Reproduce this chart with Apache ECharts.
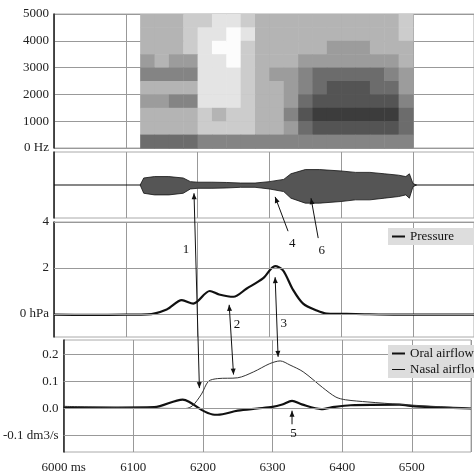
<!DOCTYPE html>
<html><head><meta charset="utf-8">
<script src="https://cdn.jsdelivr.net/npm/echarts@6/dist/echarts.min.js"></script>
<style>html,body{margin:0;padding:0;background:#fff}#c{width:474px;height:474px}</style>
</head><body><div id="c"></div>
<script>
// ---- data ----
const specStart = 6120, specStep = 20, freqStep = 500;
// rows from 4500-5000 Hz (top) down to 0-500 Hz; one value per 20 ms column (intensity 0-9)
const specRows = [
 [3,3,3,2,2,1,1,2,3,3,3,3,3,3,3,3,3,3,2],
 [3,3,3,2,1,1,0,1,3,3,3,3,3,3,3,3,3,3,2],
 [3,3,3,2,1,0,0,2,3,3,3,3,3,4,4,4,3,3,3],
 [4,3,4,4,1,1,0,2,3,3,3,4,4,4,4,4,4,4,3],
 [5,5,5,5,1,1,1,2,3,4,4,5,6,6,6,6,6,5,4],
 [3,3,3,3,1,1,1,2,3,3,4,5,6,7,7,7,6,6,4],
 [4,4,5,5,1,1,1,2,3,3,4,6,7,7,7,7,7,7,5],
 [3,3,3,3,2,3,2,2,3,3,5,7,8,8,8,8,8,8,6],
 [3,3,3,3,2,2,2,2,3,3,4,6,7,7,7,7,7,7,6],
 [6,6,6,6,5,5,5,5,5,5,5,5,5,5,5,5,5,5,5]
];
const waveT   = [6120,6125,6140,6160,6180,6190,6200,6220,6240,6260,6280,6300,6320,6330,6350,6370,6400,6420,6440,6460,6480,6490,6495,6500,6505];
const waveEnv = [0,0.25,0.3,0.3,0.25,0.12,0.1,0.1,0.09,0.07,0.07,0.12,0.2,0.4,0.55,0.55,0.5,0.45,0.45,0.4,0.35,0.3,0.4,0.05,0];
const pressureT = [6000,6050,6100,6130,6157,6178,6194,6217,6230,6250,6268,6291,6308,6319,6333,6347,6366,6380,6420,6480,6585];
const pressureV = [-0.03,-0.04,-0.03,-0.02,0.2,0.6,0.45,1.0,0.85,0.75,1.1,1.55,2.08,1.9,1.05,0.45,0.15,0.02,0,-0.03,-0.03];
const oralT = [6000,6130,6171,6180,6198,6214,6221,6250,6278,6300,6314,6328,6342,6370,6389,6412,6482,6505,6585];
const oralV = [0.003,0.005,0.033,0.025,-0.005,-0.022,-0.023,-0.008,0,0.006,0.015,0.028,0.015,-0.002,0.006,0.012,0.014,0.008,0];
const nasalT = [6000,6175,6185,6198,6208,6221,6250,6273,6296,6311,6325,6344,6372,6391,6405,6437,6484,6530,6585];
const nasalV = [0.008,0,0.01,0.053,0.1,0.11,0.113,0.135,0.165,0.175,0.16,0.135,0.077,0.042,0.032,0.024,0.015,0.008,0];
const pressTicks = [0,2,4];
const flowTicks = [-0.1,0,0.1,0.2];

// ---- build ----
const font = 'Liberation Serif';
const pair = (t,v)=>t.map((x,i)=>[x,v[i]]);
const specData = [];
specRows.forEach((row,r)=>row.forEach((v,c)=>specData.push([specStart+c*specStep,(specRows.length-1-r)*freqStep,v])));
const grids = [
 {left:54,right:0,top:14,height:134},
 {left:54,right:0,top:152,height:66},
 {left:54,right:0,top:222,height:115},
 {left:54,right:0,top:340,height:117}
].map(g=>Object.assign(g,{show:true,borderColor:'#aaa',borderWidth:1,backgroundColor:'#fff'}));
const xAxes = grids.map((g,i)=>({type:'value',gridIndex:i,min:6000,max:6585,interval:100,
  axisLine:{show:false,onZero:false},axisTick:{show:false},
  axisLabel:{show:i===3,fontFamily:font,fontSize:13,color:'#222',margin:9,
    formatter:v=>v===6000?'6000 ms':(v<=6500?String(v):'')},
  splitLine:{show:true,lineStyle:{color:'#999',width:1}}}));
const yBase = {type:'value',axisLine:{show:true,onZero:false,lineStyle:{color:'#222',width:1.5}},axisTick:{show:false},
  splitLine:{show:false},axisLabel:{fontFamily:font,fontSize:13,color:'#222',margin:5}};
const yAxes = [
 Object.assign({},yBase,{gridIndex:0,min:0,max:5000,interval:1000,splitLine:{show:true,lineStyle:{color:'#999'}},
   axisLabel:Object.assign({},yBase.axisLabel,{formatter:v=>v===0?'0 Hz':String(v)})}),
 Object.assign({},yBase,{gridIndex:1,min:-1,max:1,axisLabel:{show:false}}),
 Object.assign({},yBase,{gridIndex:2,min:-1,max:4,axisLabel:Object.assign({},yBase.axisLabel,{customValues:pressTicks,formatter:v=>v===0?'0 hPa':String(v)})}),
 Object.assign({},yBase,{gridIndex:3,min:-0.16,max:0.252,axisLabel:Object.assign({},yBase.axisLabel,{customValues:flowTicks,formatter:v=>Math.abs(v+0.1)<1e-6?'-0.1 dm3/s':v.toFixed(1)})})
];
const hLines = (vals)=>({silent:true,symbol:'none',label:{show:false},lineStyle:{color:'#999',type:'solid',width:1},data:vals.map(v=>({yAxis:v}))});

const chart = echarts.init(document.getElementById('c'),null,{renderer:'canvas'});
chart.setOption({
 animation:false,
 backgroundColor:'#fff',
 grid:grids, xAxis:xAxes, yAxis:yAxes,
 series:[
  {type:'custom',xAxisIndex:0,yAxisIndex:0,data:specData,z:1,
   renderItem:(p,api)=>{const t=api.value(0),f=api.value(1),v=api.value(2);
     const a=api.coord([t,f+freqStep]),b=api.coord([t+specStep,f]);const g=Math.round(252-v*24);
     return {type:'rect',shape:{x:a[0],y:a[1],width:b[0]-a[0]+0.5,height:b[1]-a[1]+0.5},style:{fill:`rgb(${g},${g},${g})`}};}},
  {type:'line',xAxisIndex:1,yAxisIndex:1,data:[[6000,0],[6585,0]],symbol:'none',lineStyle:{color:'#111',width:1.2},z:2},
  {type:'custom',xAxisIndex:1,yAxisIndex:1,data:[[0]],z:3,
   renderItem:(p,api)=>{const up=waveT.map((t,i)=>api.coord([t,waveEnv[i]*0.85]));
     const dn=waveT.map((t,i)=>api.coord([t,-waveEnv[i]])).reverse();
     return {type:'polygon',shape:{points:up.concat(dn)},style:{fill:'#555',stroke:'#111',lineWidth:0.8}};}},
  {name:'Pressure',type:'line',xAxisIndex:2,yAxisIndex:2,data:pair(pressureT,pressureV),smooth:0.3,symbol:'none',
   lineStyle:{color:'#111',width:2.2},markLine:hLines(pressTicks)},
  {name:'Oral airflow',type:'line',xAxisIndex:3,yAxisIndex:3,data:pair(oralT,oralV),smooth:0.3,symbol:'none',
   lineStyle:{color:'#111',width:2.2},markLine:hLines(flowTicks)},
  {name:'Nasal airflow',type:'line',xAxisIndex:3,yAxisIndex:3,data:pair(nasalT,nasalV),smooth:0.3,symbol:'none',
   lineStyle:{color:'#333',width:1}}
 ]
});

// ---- annotations & legends ----
const P=(g,x,y)=>chart.convertToPixel({gridIndex:g},[x,y]);
const els=[];
function head(tip,from){const dx=tip[0]-from[0],dy=tip[1]-from[1],L=Math.hypot(dx,dy),ux=dx/L,uy=dy/L,s=6,w=2.5;
  els.push({type:'polygon',shape:{points:[tip,[tip[0]-ux*s-uy*w,tip[1]-uy*s+ux*w],[tip[0]-ux*s+uy*w,tip[1]-uy*s-ux*w]]},style:{fill:'#111'},z:100});}
function arrow(a,b,both){els.push({type:'line',shape:{x1:a[0],y1:a[1],x2:b[0],y2:b[1]},style:{stroke:'#111',lineWidth:1},z:100});head(b,a);if(both)head(a,b);}
function label(t,p,al){els.push({type:'text',x:p[0],y:p[1],style:{text:t,fontFamily:font,fontSize:13,fill:'#111',align:al||'center',verticalAlign:'middle'},z:100});}
arrow(P(1,6195,-0.25),P(3,6195,0.075),true); label('1',P(2,6184,2.78));
arrow(P(2,6244,0.4),P(3,6244,0.125),true); label('2',P(2,6255,-0.48));
arrow(P(2,6308,1.6),P(3,6308,0.19),true); label('3',P(2,6320,-0.4));
arrow(P(2,6326,3.6),P(1,6308,-0.36)); label('4',P(2,6332,3.05));
arrow(P(2,6368,3.3),P(1,6358,-0.4)); label('6',P(2,6373,2.75));
arrow(P(3,6328,-0.058),P(3,6328,-0.008)); label('5',P(3,6330,-0.092));
function legendItem(name,y,w){els.push({type:'line',shape:{x1:392,y1:y,x2:405,y2:y},style:{stroke:'#111',lineWidth:w},z:101});
  els.push({type:'text',x:410,y:y,style:{text:name,fontFamily:font,fontSize:13,fill:'#111',verticalAlign:'middle'},z:101});}
els.push({type:'rect',shape:{x:388,y:228,width:90,height:17},style:{fill:'#ddd'},z:99});
legendItem('Pressure',236.5,2);
els.push({type:'rect',shape:{x:388,y:345,width:90,height:33},style:{fill:'#ddd'},z:99});
legendItem('Oral airflow',353.5,2);
legendItem('Nasal airflow',369.5,1);
chart.setOption({graphic:{elements:els}});
</script></body></html>
